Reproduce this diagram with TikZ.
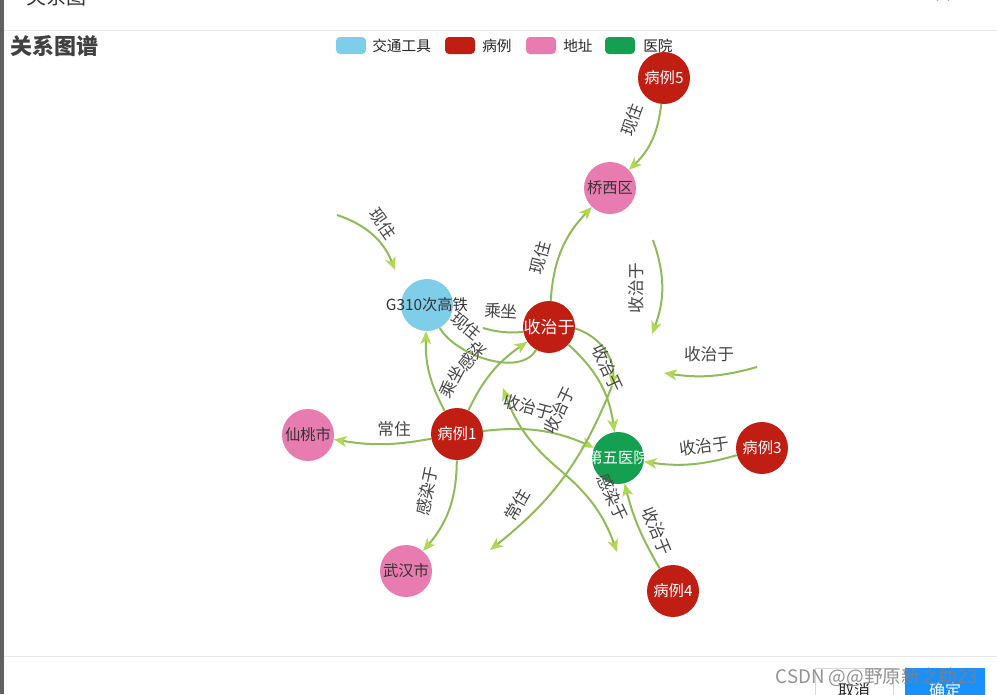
\documentclass[tikz,border=0pt]{standalone}
\usepackage{fontspec}
\setmainfont{Noto Sans CJK SC}
\usetikzlibrary{arrows.meta}
\definecolor{jtblue}{RGB}{126,206,233}
\definecolor{blred}{RGB}{192,30,18}
\definecolor{dzpink}{RGB}{232,124,177}
\definecolor{yygreen}{RGB}{20,160,80}
\definecolor{relgreen}{RGB}{142,188,88}
\definecolor{tipgreen}{RGB}{178,214,86}
\definecolor{lblgray}{RGB}{70,70,70}
\definecolor{btnblue}{RGB}{24,144,255}

\begin{document}
\begin{tikzpicture}[x=0.75pt, y=-0.75pt,
	every node/.style={font=\fontsize{11.5}{13}\selectfont},
	>={Stealth[length=9.5pt, width=8pt, inset=2.5pt, color=tipgreen]},
	ball/.style={circle, minimum size=39pt, inner sep=0pt},
	jiaotong/.style={ball, fill=jtblue, label={[text=black!80]center:#1}},
	bingli/.style={ball, fill=blred, label={[text=white]center:#1}},
	dizhi/.style={ball, fill=dzpink, label={[text=black!80]center:#1}},
	yiyuan/.style={ball, fill=yygreen, label={[text=white]center:#1}},
	rel/.style={draw=relgreen, line width=1.5pt},
	lbl/.style={text=lblgray, inner sep=1pt, font=\fontsize{12.5}{14}\selectfont},
	legbox/.style={rounded corners=3pt, minimum width=22.5pt, minimum height=12.75pt, inner sep=0pt},
	legtxt/.style={anchor=west, inner sep=0pt, text=black!85, font=\fontsize{11}{12}\selectfont}]
	\useasboundingbox (0,0) rectangle (997,694);
	\fill[white] (0,0) rectangle (997,694);
	% dialog frame
	\fill[gray!75!black] (0,0) rectangle (4,694);
	\node[anchor=west, text=black!80, font=\fontsize{15}{17}\selectfont] (dlgtitle) at (22,-3) {关系图};
	\node[text=gray, font=\fontsize{15}{17}\selectfont] (dlgclose) at (943,-4) {×};
	\draw[black!9, line width=0.75pt] (4,30) -- (997,30);
	\draw[black!9, line width=0.75pt] (4,656) -- (997,656);
	% title and legend
	\node[anchor=west, inner sep=0pt, text=black!75, font=\bfseries\fontsize{16.5}{18}\selectfont] (title) at (10,46) {关系图谱};
	\node[legbox, fill=jtblue] (lg1) at (351,45.5) {};
	\node[legtxt] (lt1) at (372,45.5) {交通工具};
	\node[legbox, fill=blred] (lg2) at (460,45.5) {};
	\node[legtxt] (lt2) at (482,45.5) {病例};
	\node[legbox, fill=dzpink] (lg3) at (541,45.5) {};
	\node[legtxt] (lt3) at (563,45.5) {地址};
	\node[legbox, fill=yygreen] (lg4) at (620,45.5) {};
	\node[legtxt] (lt4) at (643,45.5) {医院};
	% graph nodes
	\node[jiaotong={G310次高铁}] (g310) at (427,305) {};
	\node[ball, fill=blred, label={[text=white, font=\fontsize{12.75}{14}\selectfont]center:收治于}] (shouzhi) at (549,327) {};
	\node[dizhi=桥西区] (qiaoxi) at (610,188) {};
	\node[bingli=病例5] (bl5) at (664,78) {};
	\node[bingli=病例1] (bl1) at (457,434) {};
	\node[dizhi=仙桃市] (xiantao) at (308,435) {};
	\node[dizhi=武汉市] (wuhan) at (406,571) {};
	\node[yiyuan=第五医院] (diwu) at (618,458) {};
	\node[bingli=病例3] (bl3) at (762,448) {};
	\node[bingli=病例4] (bl4) at (673,591) {};
	% loose ends
	\coordinate (c1) at (337,215);
	\coordinate (c2) at (395,270);
	\coordinate (d1) at (653,240);
	\coordinate (d2) at (652,334);
	\coordinate (e1) at (757,367);
	\coordinate (e2) at (664,373);
	\coordinate (n1) at (483,328);
	\coordinate (p1) at (612,386);
	\coordinate (p2) at (490,550);
	\coordinate (m1) at (560,470);
	\coordinate (q1) at (503,388);
	\coordinate (q2) at (617,552);
	% relations
	\draw[rel, ->] (bl5) to[bend left=20] (qiaoxi);
	\draw[rel, ->] (shouzhi) to[bend left=20] (qiaoxi);
	\draw[rel, ->] (c1) to[bend left=25] (c2);
	\draw[rel, ->] (d1) to[bend left=20] (d2);
	\draw[rel, ->] (e1) to[bend left=12] (e2);
	\draw[rel, ->] (bl3) to[bend left=12] (diwu);
	\draw[rel, ->] (bl4) to[bend left=8] (diwu);
	\draw[rel, ->] (bl1) to[bend left=20] (wuhan);
	\draw[rel, ->] (bl1) to[bend left=10] (xiantao);
	\draw[rel, ->] (bl1) to[bend left=15] (g310);
	\draw[rel, ->] (bl1) to[bend left=15] (shouzhi);
	\draw[rel, ->] (bl1) to[bend left=15] (diwu);
	\draw[rel, ->] (shouzhi) to[bend left=20] (diwu);
	\draw[rel] (g310) .. controls (455,355) and (520,378) .. (shouzhi);
	\draw[rel] (n1) to[bend right=10] (shouzhi);
	\draw[rel, ->] (shouzhi) to[bend left=40] (p1);
	\draw[rel, ->] (p1) to[bend left=15] (p2);
	\draw[rel, ->] (m1) to[bend left=15] (q1);
	\draw[rel, ->] (m1) to[bend left=15] (q2);
	% relation labels
	\node[lbl, rotate=70] (la) at (632,120) {现住};
	\node[lbl, rotate=75] (lb) at (540,258) {现住};
	\node[lbl, rotate=-55] (lc) at (383,224) {现住};
	\node[lbl, rotate=90] (ld) at (636,288) {收治于};
	\node[lbl] (le) at (709,354) {收治于};
	\node[lbl, rotate=8] (lf) at (704,446) {收治于};
	\node[lbl, rotate=-68] (lg) at (657,531) {收治于};
	\node[lbl, rotate=78] (lh) at (427,491) {感染于};
	\node[lbl] (li) at (394,429) {常住};
	\node[lbl, rotate=62] (lj) at (452,382) {乘坐};
	\node[lbl, rotate=50] (lk) at (472,356) {感染};
	\node[lbl, rotate=-65] (ll) at (608,368) {收治于};
	\node[lbl, rotate=-40] (lm) at (466,326) {现住};
	\node[lbl, rotate=-3] (ln) at (501,311) {乘坐};
	\node[lbl, rotate=60] (lo) at (517,505) {常住};
	\node[lbl, rotate=-15] (lp) at (528,407) {收治于};
	\node[lbl, rotate=65] (lq) at (559,410) {收治于};
	\node[lbl, rotate=-65] (lr) at (613,497) {感染于};
	% buttons and watermark
	\draw[black!15, fill=white] (815,668) rectangle (893,710);
	\node[text=black!85, font=\fontsize{12}{14}\selectfont] (cancel) at (854,690) {取消};
	\fill[btnblue] (905,668) rectangle (985,710);
	\node[text=white, font=\fontsize{12}{14}\selectfont] (ok) at (945,690) {确定};
	\node[text=gray, opacity=0.85, font=\fontsize{14}{16}\selectfont] (mark) at (877,677) {CSDN @@野原新之助23};
\end{tikzpicture}
\end{document}
